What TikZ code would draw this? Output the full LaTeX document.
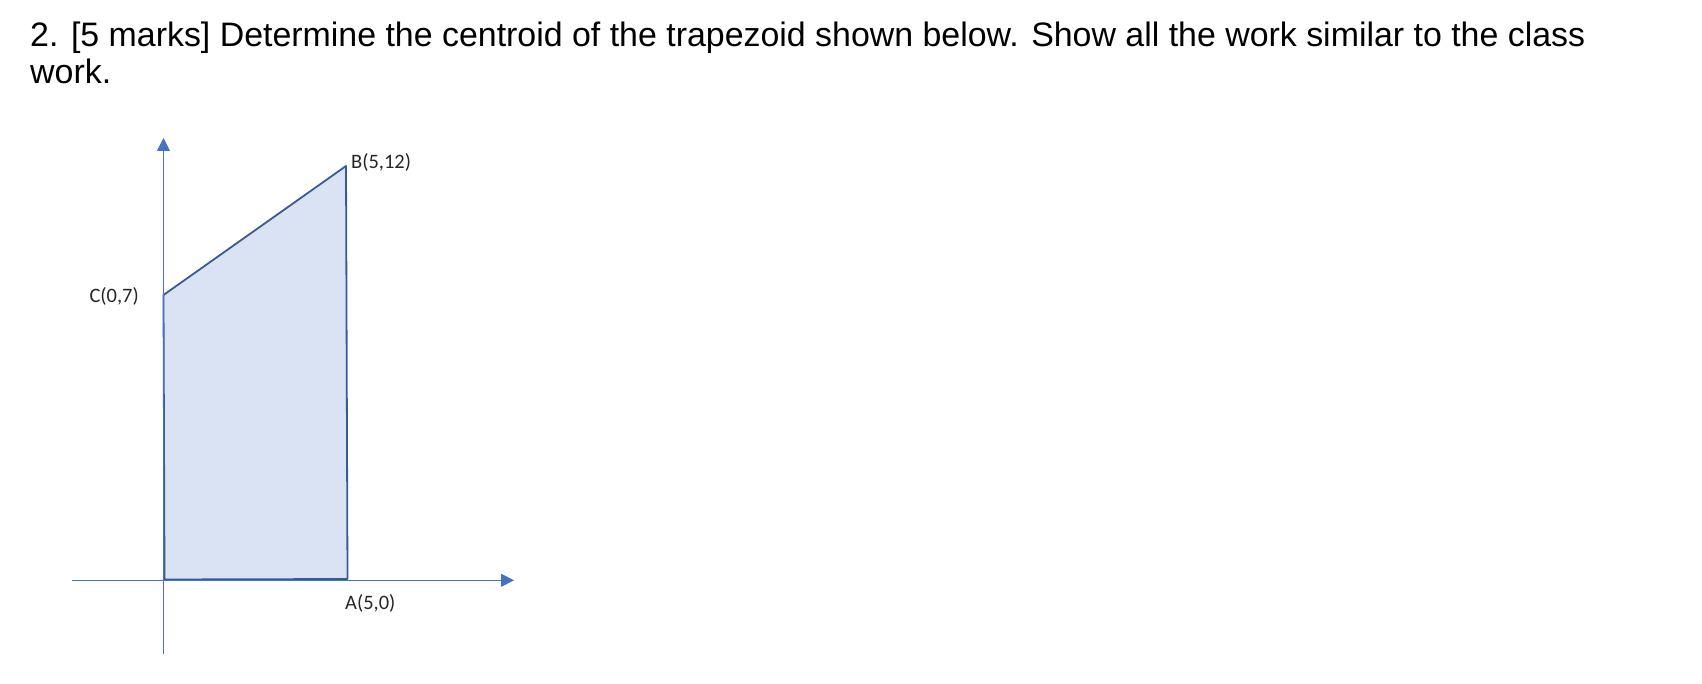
\documentclass[tikz,border=0pt]{standalone}
\usepackage{fontspec}
\setmainfont{Liberation Sans}
\newfontfamily\calib{Carlito}
\usetikzlibrary{arrows.meta}
\definecolor{axisblue}{HTML}{4472C4}
\definecolor{edgeblue}{HTML}{3A5A96}
\definecolor{fillblue}{HTML}{DAE3F3}
\begin{document}
\begin{tikzpicture}[x=1pt,y=-1pt,
  axis/.style={draw=axisblue,line width=1pt,-{Triangle[length=13pt,width=13pt]}},
  trap/.style={draw=edgeblue,fill=fillblue,line width=1.8pt,line join=round},
  lbl/.style={font=\calib\fontsize{20.5}{24}\selectfont,text=black!85,inner sep=0pt,anchor=base west},
  title/.style={font=\fontsize{33.9}{40}\selectfont,inner sep=0pt,anchor=base west}]
\useasboundingbox (0,0) rectangle (1702,684);
\fill[white] (0,0) rectangle (1702,684);
\node[title] (t1) at (30,46.7) {2. [5 marks] Determine the centroid of the trapezoid shown below. Show all the work similar to the class};
\node[title] (t2) at (30,84) {work.};
\coordinate (ybot) at (163.5,654);
\coordinate (ytop) at (163.5,138);
\coordinate (xleft) at (72,580.3);
\coordinate (xright) at (514,580.3);
\coordinate (P0) at (164.5,579.5);
\coordinate (PA) at (347.5,579);
\coordinate (PB) at (346,166);
\coordinate (PC) at (163.5,295);
\draw[trap] (P0) -- (PA) -- (PB) -- (PC) -- cycle;
\draw[axis] (ybot) -- (ytop);
\draw[axis] (xleft) -- (xright);
\node[lbl] (lb) at (351,169) {B(5,12)};
\node[lbl] (lc) at (89.3,303) {C(0,7)};
\node[lbl] (la) at (345,609) {A(5,0)};
\end{tikzpicture}
\end{document}
